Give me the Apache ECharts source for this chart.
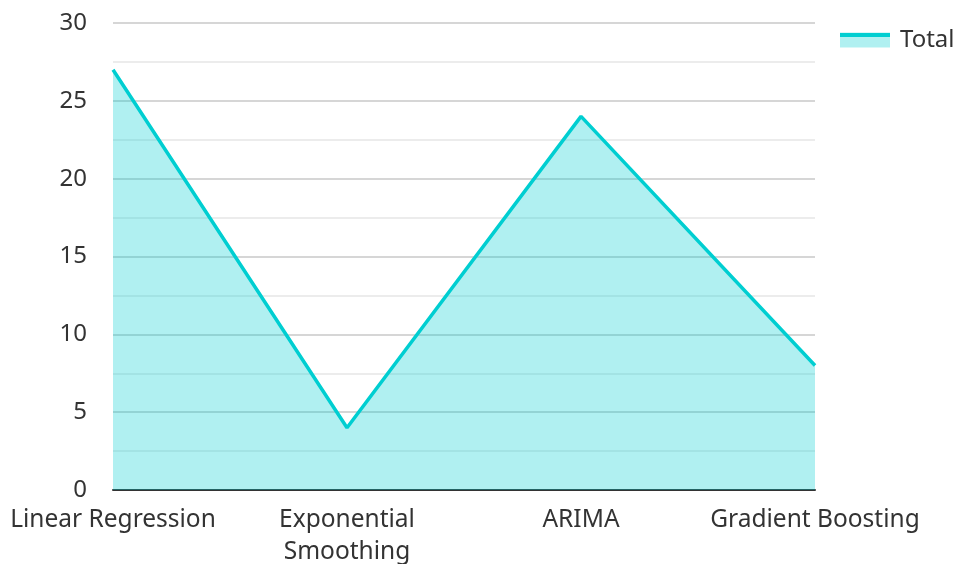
<!DOCTYPE html>
<html>
<head>
<meta charset="utf-8">
<script src="https://cdn.jsdelivr.net/npm/echarts@6/dist/echarts.min.js"></script>
<style>
  html, body { margin: 0; padding: 0; background: #fff; }
  #main { width: 956px; height: 564px; }
</style>
</head>
<body>
<div id="main"></div>
<script>
// data
var categories = ['Linear Regression', 'Exponential\nSmoothing', 'ARIMA', 'Gradient Boosting'];
var totalValues = [27, 4, 24, 8];
var seriesName = 'Total';

var lineColor = '#00CED1';
var fontName = 'Noto Sans';

var chart = echarts.init(document.getElementById('main'));

var option = {
  backgroundColor: '#fff',
  textStyle: { fontFamily: fontName },
  grid: { left: 113, right: 141, top: 23, bottom: 74, outerBoundsMode: 'none', containLabel: false },
  legend: {
    data: [seriesName],
    left: 840,
    top: 28,
    padding: 0,
    icon: 'rect',
    itemWidth: 50,
    itemHeight: 15,
    itemGap: 10,
    itemStyle: { color: 'rgba(0,206,209,0.31)' },
    textStyle: { fontSize: 24, color: '#333', fontFamily: fontName, padding: [0, 0, 0, 5] }
  },
  // line on top of legend icon
  graphic: [{
    type: 'rect',
    shape: { x: 840, y: 33, width: 50, height: 4 },
    style: { fill: lineColor },
    z: 100
  }],
  xAxis: {
    type: 'category',
    data: categories,
    boundaryGap: false,
    axisLine: { lineStyle: { color: '#333', width: 2 } },
    axisTick: { show: false },
    axisLabel: { fontSize: 24.5, color: '#333', margin: 14, lineHeight: 32, interval: 0 },
    splitLine: { show: false }
  },
  yAxis: {
    type: 'value',
    min: 0,
    max: 30,
    interval: 5,
    axisLine: { show: false },
    axisTick: { show: false },
    axisLabel: { fontSize: 24, color: '#333', margin: 26 },
    splitLine: { lineStyle: { color: '#c8c8c8', width: 1.5 } },
    minorTick: { show: false, splitNumber: 2 },
    minorSplitLine: { show: true, lineStyle: { color: '#e6e6e6', width: 1.5 } }
  },
  series: [{
    name: seriesName,
    type: 'line',
    data: totalValues,
    showSymbol: false,
    symbol: 'none',
    lineStyle: { color: lineColor, width: 3.5 },
    itemStyle: { color: lineColor },
    areaStyle: { color: lineColor, opacity: 0.31 }
  }]
};

chart.setOption(option);
</script>
</body>
</html>
